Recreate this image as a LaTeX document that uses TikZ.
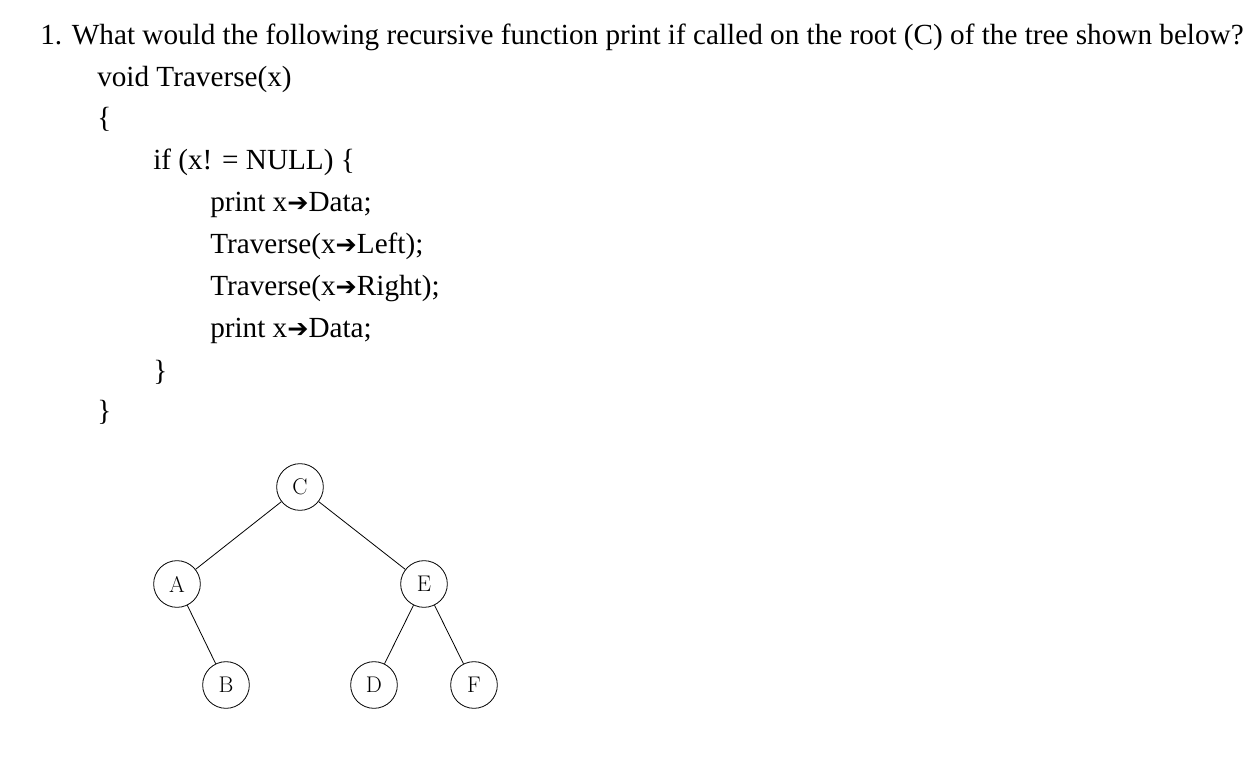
\documentclass[tikz,border=0pt]{standalone}
\usepackage{fontspec}
\setmainfont{Liberation Serif}
\newfontfamily\arr{DejaVu Sans}
\newfontfamily\lm{Latin Modern Roman}
\begin{document}
\begin{tikzpicture}[x=0.75pt,y=-0.75pt,
  txt/.style={anchor=base west,inner sep=0pt,font=\fontsize{21.9}{24}\selectfont},
  tn/.style={circle,draw,line width=0.6pt,minimum size=35pt,inner sep=0pt,font=\lm\fontsize{17}{19}\selectfont},
  ed/.style={line width=0.6pt}]
\useasboundingbox (0,0) rectangle (1252,759);
\newcommand{\ar}{{\arr\fontsize{19}{20}\selectfont ➔}}
\node[txt] (q) at (40,45) {1. What would the following recursive function print if called on the root (C) of the tree shown below?};
\node[txt] (l1) at (97,87) {void Traverse(x)};
\node[txt] (l2) at (97,128) {\{};
\node[txt] (l3) at (153,170) {if (x! = NULL) \{};
\node[txt] (l4) at (210,212) {print x\ar Data;};
\node[txt] (l5) at (210,253) {Traverse(x\ar Left);};
\node[txt] (l6) at (210,295) {Traverse(x\ar Right);};
\node[txt] (l7) at (210,337) {print x\ar Data;};
\node[txt] (l8) at (153,380) {\}};
\node[txt] (l9) at (97,420) {\}};
\node[tn] (C) at (300,487) {C};
\node[tn] (A) at (177,584) {A};
\node[tn] (E) at (424,584) {E};
\node[tn] (B) at (226,685) {B};
\node[tn] (D) at (374,685) {D};
\node[tn] (F) at (474,685) {F};
\draw[ed] (C)--(A) (C)--(E) (A)--(B) (E)--(D) (E)--(F);
\end{tikzpicture}
\end{document}
